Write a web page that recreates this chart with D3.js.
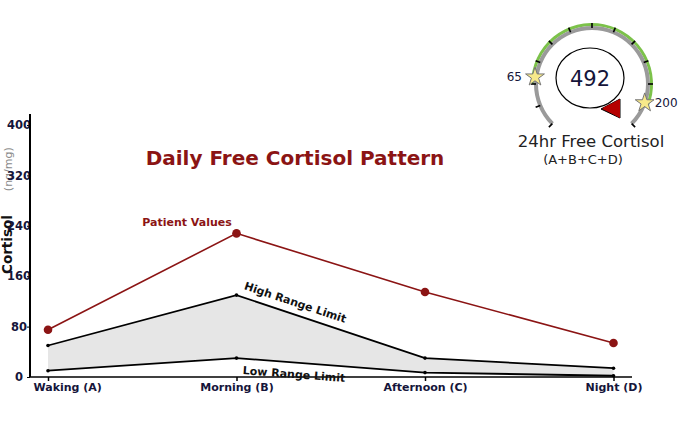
<!DOCTYPE html>
<html><head><meta charset="utf-8">
<script src="https://cdn.jsdelivr.net/npm/d3@7"></script>
<style>
html,body{margin:0;padding:0;background:#fff;}
svg{display:block;font-family:"DejaVu Sans",Verdana,sans-serif;}
</style></head>
<body>
<svg id="c" width="700" height="424"></svg>
<script>
const categories = ["Waking (A)", "Morning (B)", "Afternoon (C)", "Night (D)"];
const patientValues = [75, 228, 135, 54];
const highLimit = [50, 130, 30, 14];
const lowLimit = [10, 30, 7, 2];
const yTicks = [0, 80, 160, 240, 320, 400];
const totalValue = 492;
const normalRange = [65, 200];
const gaugeDomain = [35, 215];
const gaugeTicks = d3.range(35, 216, 15);

const svg = d3.select("#c");
const navy = "#15153a";
const red = "#8b1414";

const x = d3.scalePoint().domain(categories).range([48, 613.5]);
const y = d3.scaleLinear().domain([0, 400]).range([377, 125]);

const rows = categories.map((c, i) => ({c, p: patientValues[i], h: highLimit[i], l: lowLimit[i]}));

// area between limits
svg.append("path").datum(rows)
  .attr("d", d3.area().x(d => x(d.c)).y0(d => y(d.l)).y1(d => y(d.h)))
  .attr("fill", "#e6e6e6");

// y title
svg.append("text").attr("transform", `translate(12,${y(0) - 103}) rotate(-90)`)
  .attr("text-anchor", "start")
  .call(t => {
    t.append("tspan").text("Cortisol").attr("font-size", 13.5).attr("font-weight", "bold").attr("fill", "#111");
    t.append("tspan").text("(ng/mg)").attr("font-size", 11).attr("fill", "#8a8a8a").attr("dx", 24);
  });

// axes
const yAxis = svg.append("g").attr("transform", "translate(30,0)")
  .call(d3.axisLeft(y).tickValues(yTicks).tickSize(3).tickPadding(1));
yAxis.select(".domain").remove();
yAxis.selectAll("text").attr("font-size", 11.5).attr("font-weight", "bold")
  .attr("fill", navy).attr("font-family", "DejaVu Sans")
  .attr("text-anchor", "middle").attr("x", -11);
yAxis.selectAll("line").attr("stroke", "#000");
svg.append("line").attr("x1", 30).attr("x2", 30).attr("y1", y(0)).attr("y2", y(400) - 11)
  .attr("stroke", "#000").attr("stroke-width", 2);

const xAxis = svg.append("g").attr("transform", `translate(0,${y(0)})`)
  .call(d3.axisBottom(x).tickSize(4).tickPadding(2));
xAxis.select(".domain").remove();
xAxis.selectAll("text").attr("font-size", 11).attr("font-weight", "bold")
  .attr("fill", navy).attr("font-family", "DejaVu Sans");
xAxis.selectAll("line").attr("stroke", "#000").attr("stroke-width", 1.5);
xAxis.selectAll(".tick").filter((d, i) => i === 0).select("text")
  .attr("text-anchor", "start").attr("dx", -15);
svg.append("line").attr("x1", 29).attr("x2", 632).attr("y1", y(0)).attr("y2", y(0))
  .attr("stroke", "#000").attr("stroke-width", 1.5);

// limit lines
[["h", highLimit], ["l", lowLimit]].forEach(([k]) => {
  svg.append("path").datum(rows)
    .attr("d", d3.line().x(d => x(d.c)).y(d => y(d[k])))
    .attr("fill", "none").attr("stroke", "#000").attr("stroke-width", 1.8);
  svg.selectAll(null).data(rows).enter().append("circle")
    .attr("cx", d => x(d.c)).attr("cy", d => y(d[k])).attr("r", 1.8).attr("fill", "#000");
});

// patient line
svg.append("path").datum(rows)
  .attr("d", d3.line().x(d => x(d.c)).y(d => y(d.p)))
  .attr("fill", "none").attr("stroke", red).attr("stroke-width", 1.6);
svg.selectAll(null).data(rows).enter().append("circle")
  .attr("cx", d => x(d.c)).attr("cy", d => y(d.p)).attr("r", 4.3).attr("fill", red);

// labels
svg.append("text").attr("x", 187).attr("y", 226).attr("text-anchor", "middle")
  .attr("font-size", 11).attr("font-weight", "bold").attr("fill", red).text("Patient Values");

function segAngle(a, b) {
  return Math.atan2(b[1] - a[1], b[0] - a[0]) * 180 / Math.PI;
}
const hB = [x(categories[1]), y(highLimit[1])], hC = [x(categories[2]), y(highLimit[2])];
const lB = [x(categories[1]), y(lowLimit[1])], lC = [x(categories[2]), y(lowLimit[2])];
const hAng = segAngle(hB, hC), lAng = segAngle(lB, lC);
svg.append("text").attr("transform", `translate(${hB[0] + 7},${hB[1] - 6}) rotate(${hAng})`)
  .attr("font-size", 11).attr("font-weight", "bold").attr("fill", "#111").text("High Range Limit");
svg.append("text").attr("transform", `translate(${lB[0] + 6},${lB[1] + 16}) rotate(${lAng})`)
  .attr("font-size", 11).attr("font-weight", "bold").attr("fill", "#111").text("Low Range Limit");

// title
svg.append("text").attr("x", 295).attr("y", 165).attr("text-anchor", "middle")
  .attr("font-size", 20).attr("font-weight", "bold").attr("fill", red).text("Daily Free Cortisol Pattern");

// gauge
const gc = [592, 84];
const ga = d3.scaleLinear().domain(gaugeDomain).range([-135, 135]);
const rad = deg => deg * Math.PI / 180;
const g = svg.append("g").attr("transform", `translate(${gc[0]},${gc[1]})`);
g.append("path").attr("d", d3.arc().innerRadius(58).outerRadius(61)
    .startAngle(rad(ga(normalRange[0]))).endAngle(rad(ga(normalRange[1])))())
  .attr("fill", "#7cc24a");
g.append("path").attr("d", d3.arc().innerRadius(54).outerRadius(58)
    .startAngle(rad(ga(gaugeDomain[0]))).endAngle(rad(ga(gaugeDomain[1])))())
  .attr("fill", "#9a9a9a");
gaugeTicks.forEach(v => {
  const a = rad(ga(v));
  g.append("line")
    .attr("x1", Math.sin(a) * 56).attr("y1", -Math.cos(a) * 56)
    .attr("x2", Math.sin(a) * 61).attr("y2", -Math.cos(a) * 61)
    .attr("stroke", "#000").attr("stroke-width", 1.6);
});
// speech-bubble ellipse with pointer toward the (clamped) value
g.append("path").attr("d", `M9,25 L28,15 L28,34 Z`)
  .attr("fill", "#b50000").attr("stroke", "#000").attr("stroke-width", 1);
g.append("ellipse").attr("cx", -2).attr("cy", -6).attr("rx", 34).attr("ry", 30)
  .attr("fill", "#fff").attr("stroke", "#000").attr("stroke-width", 1.2);
g.append("path").attr("d", `M10.5,24 L28,15 L28,34 Z`)
  .attr("fill", "#b50000");
g.append("text").attr("x", -2).attr("y", 2).attr("text-anchor", "middle")
  .attr("font-size", 21).attr("fill", navy).text(totalValue);

const star = d3.symbol().type(d3.symbolStar).size(110);
normalRange.forEach((v, i) => {
  const a = rad(ga(v));
  const sx = Math.sin(a) * 57, sy = -Math.cos(a) * 57 + (i === 0 ? -7 : -3);
  g.append("path").attr("d", star()).attr("transform", `translate(${sx},${sy})`)
    .attr("fill", "#f7e98a").attr("stroke", "#777").attr("stroke-width", 1);
  g.append("text").attr("x", sx + (i === 0 ? -13 : 10)).attr("y", sy + 4)
    .attr("text-anchor", i === 0 ? "end" : "start")
    .attr("font-size", 12).attr("fill", navy).text(v);
});

svg.append("text").attr("x", 591).attr("y", 147).attr("text-anchor", "middle")
  .attr("font-size", 16.5).attr("fill", "#222").text("24hr Free Cortisol");
svg.append("text").attr("x", 583).attr("y", 164).attr("text-anchor", "middle")
  .attr("font-size", 13).attr("fill", "#222").text("(A+B+C+D)");
</script>
</body></html>
